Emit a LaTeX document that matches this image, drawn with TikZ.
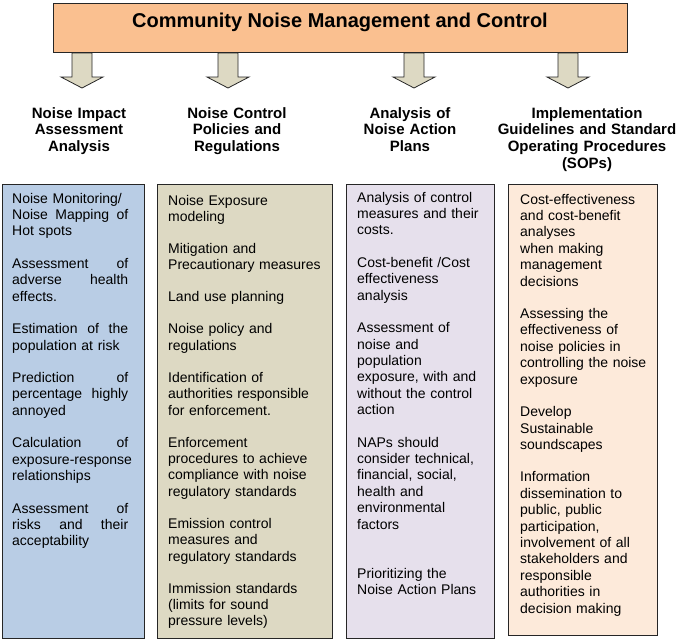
\documentclass[tikz,border=0pt]{standalone}
\usepackage{fontspec}
\setmainfont{Liberation Sans}
\definecolor{hdrfill}{HTML}{FAC090}
\definecolor{tanfill}{HTML}{DDD9C3}
\definecolor{bluefill}{HTML}{B9CDE5}
\definecolor{lilacfill}{HTML}{E6E0EC}
\definecolor{peachfill}{HTML}{FDEADA}
\definecolor{edge}{HTML}{262626}
\newcommand{\jline}[1]{\leavevmode\hbox to 116pt{#1}}
\begin{document}
\begin{tikzpicture}[x=1pt,y=-1pt,
  frame/.style={draw=edge,line width=0.9pt,rectangle,inner sep=0pt},
  blkarrow/.style={draw=edge,line width=0.8pt,fill=tanfill,line join=miter},
  heading/.style={font=\fontsize{15}{16.7}\selectfont\bfseries,text width=190pt,align=center,anchor=base,inner sep=0pt},
  body/.style={font=\fontsize{14}{16.4}\selectfont,align=left,anchor=base west,inner sep=0pt}]
\useasboundingbox (0,0) rectangle (685,643);
% header
\node[frame,fill=hdrfill,minimum width=574pt,minimum height=49pt] (hdr) at (340,27.5) {};
\node[font=\fontsize{20}{24}\selectfont\bfseries,anchor=base,inner sep=0pt] (title) at (340,27) {Community Noise Management and Control};
% block arrows
\coordinate (a1) at (82,53);
\coordinate (a2) at (228,53);
\coordinate (a3) at (414,53);
\coordinate (a4) at (568,53);
\foreach \a in {a1,a2,a3,a4}{
  \draw[blkarrow] (\a) ++(-10,0) -- ++(0,24) -- ++(-11,0) -- ++(21,11) -- ++(21,-11) -- ++(-11,0) -- ++(0,-24) -- cycle;
}
% headings
\node[heading] (h1) at (79,118) {Noise Impact\\Assessment\\Analysis};
\node[heading] (h2) at (237,118) {Noise Control\\Policies and\\Regulations};
\node[heading] (h3) at (410,118) {Analysis of\\Noise Action\\Plans};
\node[heading] (h4) at (587,118) {Implementation\\Guidelines and Standard\\Operating Procedures\\(SOPs)};
% column boxes
\node[frame,fill=bluefill,minimum width=142pt,minimum height=454pt] (b1) at (73.5,411) {};
\node[frame,fill=tanfill,minimum width=175pt,minimum height=454pt] (b2) at (244.5,411) {};
\node[frame,fill=lilacfill,minimum width=148pt,minimum height=454pt] (b3) at (420,411) {};
\node[frame,fill=peachfill,minimum width=149pt,minimum height=451pt] (b4) at (582.5,409.5) {};
% column texts
\node[body,text width=124pt] (t1) at (12,203) {%
Noise Monitoring/\\
\jline{Noise\hfill Mapping\hfill of}\\
Hot spots\\[16.1pt]
\jline{Assessment\hfill of}\\
\jline{adverse\hfill health}\\
effects.\\[16.1pt]
\jline{Estimation\hfill of\hfill the}\\
population at risk\\[16.1pt]
\jline{Prediction\hfill of}\\
\jline{percentage\hfill highly}\\
annoyed\\[16.1pt]
\jline{Calculation\hfill of}\\
exposure-response\\
relationships\\[16.1pt]
\jline{Assessment\hfill of}\\
\jline{risks\hfill and\hfill their}\\
acceptability};
\node[body,text width=162pt] (t2) at (168,205) {%
Noise Exposure\\
modeling\\[15.6pt]
Mitigation and\\
Precautionary measures\\[15.6pt]
Land use planning\\[15.6pt]
Noise policy and\\
regulations\\[15.6pt]
Identification of\\
authorities responsible\\
for enforcement.\\[15.6pt]
Enforcement\\
procedures to achieve\\
compliance with noise\\
regulatory standards\\[15.6pt]
Emission control\\
measures and\\
regulatory standards\\[15.6pt]
Immission standards\\
(limits for sound\\
pressure levels)};
\node[body,text width=135pt] (t3) at (357,202) {%
Analysis of control\\
measures and their\\
costs.\\[16.1pt]
Cost-benefit /Cost\\
effectiveness\\
analysis\\[16.1pt]
Assessment of\\
noise and\\
population\\
exposure, with and\\
without the control\\
action\\[16.1pt]
NAPs should\\
consider technical,\\
financial, social,\\
health and\\
environmental\\
factors\\[32.5pt]
Prioritizing the\\
Noise Action Plans};
\node[body,text width=135pt] (t4) at (520,204) {%
Cost-effectiveness\\
and cost-benefit\\
analyses\\
when making\\
management\\
decisions\\[16.1pt]
Assessing the\\
effectiveness of\\
noise policies in\\
controlling the noise\\
exposure\\[16.1pt]
Develop\\
Sustainable\\
soundscapes\\[16.1pt]
Information\\
dissemination to\\
public, public\\
participation,\\
involvement of all\\
stakeholders and\\
responsible\\
authorities in\\
decision making};
\end{tikzpicture}
\end{document}
